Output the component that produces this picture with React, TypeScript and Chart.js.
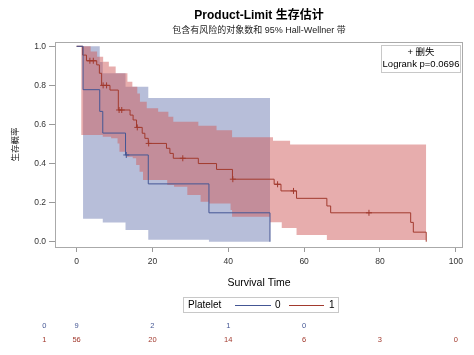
import React, { useEffect, useRef } from 'react';
import { Chart, registerables } from 'chart.js';

Chart.register(...registerables);

const FONT = "'Liberation Sans', Arial, 'Noto Sans CJK SC', sans-serif";

const titleText = 'Product-Limit 生存估计';
const subtitleText = '包含有风险的对象数和 95% Hall-Wellner 带';
const xAxisTitle = 'Survival Time';
const yAxisTitle = '生存概率';
const censorLabel = '+ 删失';
const logrankText = 'Logrank p=0.0696';
const legendTitle = 'Platelet';
const groupLabels = ['0', '1'];

const xTicks = [0, 20, 40, 60, 80, 100];
const yTicks = [0, 0.2, 0.4, 0.6, 0.8, 1.0];

// Platelet = 0
const g0Times = [0, 1.7, 6.1, 6.9, 12.9, 18.9, 34.9, 51.0];
const g0Surv = [1, 0.778, 0.667, 0.556, 0.444, 0.296, 0.148, 0];
const g0Censor = [13.1];
const g0UpperTimes = [1.7, 6.1, 6.9, 12.9, 18.9, 51.0];
const g0Upper = [1.0, 0.92, 0.862, 0.793, 0.735, 0.735];
const g0LowerTimes = [1.7, 6.9, 12.9, 18.9, 34.9, 51.0];
const g0Lower = [0.118, 0.099, 0.06, 0.01, 0.0, 0.0];

// Platelet = 1
const g1Times = [0, 1.6, 2.6, 5.3, 6.0, 6.6, 8.8, 11.0, 14.1, 14.9, 15.8, 17.3, 18.0, 18.9, 23.7, 24.6, 25.5, 32.1, 36.9, 41.1, 52.1, 53.9, 58.0, 66.0, 67.0, 88.1, 88.8, 92.2];
const g1Surv = [1, 0.955, 0.926, 0.905, 0.862, 0.80, 0.776, 0.674, 0.648, 0.623, 0.585, 0.555, 0.529, 0.503, 0.478, 0.452, 0.427, 0.40, 0.37, 0.32, 0.294, 0.26, 0.222, 0.183, 0.148, 0.099, 0.049, 0];
const g1Censor = [3.5, 4.4, 7.0, 7.9, 11.2, 11.9, 16.0, 19.0, 28.0, 41.2, 53.0, 57.2, 77.1];
const g1UpperTimes = [1.2, 3.7, 5.4, 7.0, 8.5, 10.3, 13.4, 14.7, 16.0, 16.7, 18.5, 21.5, 24.2, 25.5, 32.1, 36.9, 41.0, 51.8, 56.3, 92.2];
const g1Upper = [1.0, 0.974, 0.947, 0.921, 0.896, 0.862, 0.819, 0.793, 0.759, 0.716, 0.683, 0.665, 0.64, 0.614, 0.594, 0.57, 0.534, 0.517, 0.498, 0.498];
const g1LowerTimes = [1.2, 6.9, 9.1, 10.8, 11.3, 13.0, 14.8, 15.7, 16.6, 17.5, 23.9, 25.7, 29.2, 32.7, 34.9, 40.6, 41.0, 51.0, 54.1, 58.0, 66.0, 92.2];
const g1Lower = [0.546, 0.537, 0.529, 0.503, 0.46, 0.435, 0.427, 0.392, 0.358, 0.316, 0.29, 0.281, 0.239, 0.205, 0.196, 0.162, 0.128, 0.10, 0.07, 0.034, 0.009, 0.009];

// Number at risk
const riskTimes = [0, 20, 40, 60, 80, 100];
const g0AtRisk = [9, 2, 1, 0];
const g1AtRisk = [56, 20, 14, 6, 3, 0];

const BLUE = '#445694';
const RED = '#A23A2E';
const BLUE_BAND = 'rgba(111,126,179,0.5)';
const RED_BAND = 'rgba(208,91,91,0.5)';

const pts = (xs: number[], ys: number[]) => xs.map((x, i) => ({ x, y: ys[i] }));
const survAt = (times: number[], surv: number[], t: number) => {
  let v = surv[0];
  for (let i = 0; i < times.length; i++) if (times[i] <= t) v = surv[i];
  return v;
};
const censorPts = (cs: number[], times: number[], surv: number[]) =>
  cs.map((t) => ({ x: t, y: survAt(times, surv, t) }));

const decorPlugin = {
  id: 'decor',
  beforeDraw(chart: any) {
    const ctx = chart.ctx;
    ctx.save();
    ctx.fillStyle = '#ffffff';
    ctx.fillRect(0, 0, chart.width, chart.height);
    ctx.restore();
  },
  afterDraw(chart: any) {
    const ctx = chart.ctx;
    const ca = chart.chartArea;
    const xs = chart.scales.x;
    ctx.save();
    // frame
    ctx.strokeStyle = '#aaaaaa';
    ctx.lineWidth = 1;
    ctx.strokeRect(Math.round(ca.left) + 0.5, Math.round(ca.top) + 0.5, Math.round(ca.right - ca.left) - 1, Math.round(ca.bottom - ca.top));

    const cx = (ca.left + ca.right) / 2;
    ctx.textAlign = 'center';
    ctx.textBaseline = 'middle';
    ctx.fillStyle = '#000';
    ctx.font = `bold 12px ${FONT}`;
    ctx.fillText(titleText, cx, 15.5);
    ctx.font = `9px ${FONT}`;
    ctx.fillStyle = '#222';
    ctx.fillText(subtitleText, cx, 31);

    // inset box
    ctx.strokeStyle = '#c8c8c8';
    ctx.strokeRect(381.5, 45.5, 79, 27);
    ctx.fillStyle = '#000';
    ctx.font = `9.5px ${FONT}`;
    ctx.fillText(censorLabel, 421, 52.5);
    ctx.fillText(logrankText, 421, 64.5);

    // legend
    ctx.strokeStyle = '#c8c8c8';
    ctx.strokeRect(183.5, 297.5, 155, 15);
    ctx.font = `10px ${FONT}`;
    ctx.textAlign = 'left';
    ctx.fillStyle = '#000';
    ctx.fillText(legendTitle, 188, 305.5);
    ctx.lineWidth = 1;
    ctx.strokeStyle = BLUE;
    ctx.beginPath();
    ctx.moveTo(235, 305.5);
    ctx.lineTo(271, 305.5);
    ctx.stroke();
    ctx.strokeStyle = RED;
    ctx.beginPath();
    ctx.moveTo(289, 305.5);
    ctx.lineTo(324, 305.5);
    ctx.stroke();
    ctx.textAlign = 'center';
    ctx.fillText(groupLabels[0], 277.7, 305.5);
    ctx.fillText(groupLabels[1], 331.7, 305.5);

    // at-risk table
    ctx.font = `7.5px ${FONT}`;
    const rows = [
      { vals: g0AtRisk, color: BLUE, y: 326, label: groupLabels[0] },
      { vals: g1AtRisk, color: RED, y: 340, label: groupLabels[1] },
    ];
    rows.forEach((r) => {
      ctx.fillStyle = r.color;
      ctx.fillText(r.label, 44.3, r.y);
      r.vals.forEach((v, i) => {
        ctx.fillText(String(v), xs.getPixelForValue(riskTimes[i]), r.y);
      });
    });
    ctx.restore();
  },
};

export default function App() {
  const ref = useRef<HTMLCanvasElement | null>(null);
  useEffect(() => {
    if (!ref.current) return;
    const hidden = { borderColor: 'transparent', borderWidth: 0, pointRadius: 0 };
    const chart = new Chart(ref.current, {
      type: 'line',
      data: {
        datasets: [
          { ...hidden, data: pts(g0UpperTimes, g0Upper), stepped: 'before', fill: 1, backgroundColor: BLUE_BAND, order: 3 } as any,
          { ...hidden, data: pts(g0LowerTimes, g0Lower), stepped: 'before', fill: false, order: 3 } as any,
          { ...hidden, data: pts(g1UpperTimes, g1Upper), stepped: 'before', fill: 3, backgroundColor: RED_BAND, order: 2 } as any,
          { ...hidden, data: pts(g1LowerTimes, g1Lower), stepped: 'before', fill: false, order: 2 } as any,
          { data: pts(g0Times, g0Surv), stepped: 'before', borderColor: BLUE, borderWidth: 1, pointRadius: 0, fill: false, order: 1 } as any,
          { data: pts(g1Times, g1Surv), stepped: 'before', borderColor: RED, borderWidth: 1, pointRadius: 0, fill: false, order: 1 } as any,
          { data: censorPts(g0Censor, g0Times, g0Surv), showLine: false, pointStyle: 'cross', pointRadius: 3, borderColor: BLUE, borderWidth: 1, order: 0 } as any,
          { data: censorPts(g1Censor, g1Times, g1Surv), showLine: false, pointStyle: 'cross', pointRadius: 3, borderColor: RED, borderWidth: 1, order: 0 } as any,
        ],
      },
      options: {
        responsive: false,
        animation: false,
        devicePixelRatio: 1,
        layout: { padding: { top: 42, right: 11, bottom: 64, left: 0 } },
        plugins: { legend: { display: false }, tooltip: { enabled: false }, title: { display: false } },
        elements: { line: { tension: 0 } },
        scales: {
          x: {
            type: 'linear',
            min: -5.7,
            max: 101.9,
            afterBuildTicks: (s: any) => { s.ticks = xTicks.map((v) => ({ value: v })); },
            afterFit: (s: any) => { s.height = 44; },
            grid: { drawOnChartArea: false, drawTicks: true, tickLength: 5, color: '#999' },
            border: { display: false },
            ticks: { font: { family: FONT, size: 8.5 }, color: '#333', padding: 5, maxRotation: 0, callback: (v: any) => String(v) },
            title: { display: true, text: xAxisTitle, font: { family: FONT, size: 10.5 }, color: '#000', padding: { top: 4, bottom: 2 } },
          },
          y: {
            type: 'linear',
            min: -0.027,
            max: 1.022,
            afterBuildTicks: (s: any) => { s.ticks = yTicks.map((v) => ({ value: v })); },
            afterFit: (s: any) => { s.width = 55; },
            grid: { drawOnChartArea: false, drawTicks: true, tickLength: 6, color: '#999' },
            border: { display: false },
            ticks: { font: { family: FONT, size: 8.5 }, color: '#333', padding: 3, callback: (v: any) => Number(v).toFixed(1) },
            title: { display: true, text: yAxisTitle, font: { family: FONT, size: 8.5 }, color: '#222', padding: { top: 10.5, bottom: 0 } },
          },
        },
      } as any,
      plugins: [decorPlugin],
    });
    return () => chart.destroy();
  }, []);
  return (
    <div style={{ position: 'fixed', left: 0, top: 0, width: 474, height: 355, background: '#fff' }}>
      <canvas ref={ref} width={474} height={355} style={{ display: 'block' }} />
    </div>
  );
}
